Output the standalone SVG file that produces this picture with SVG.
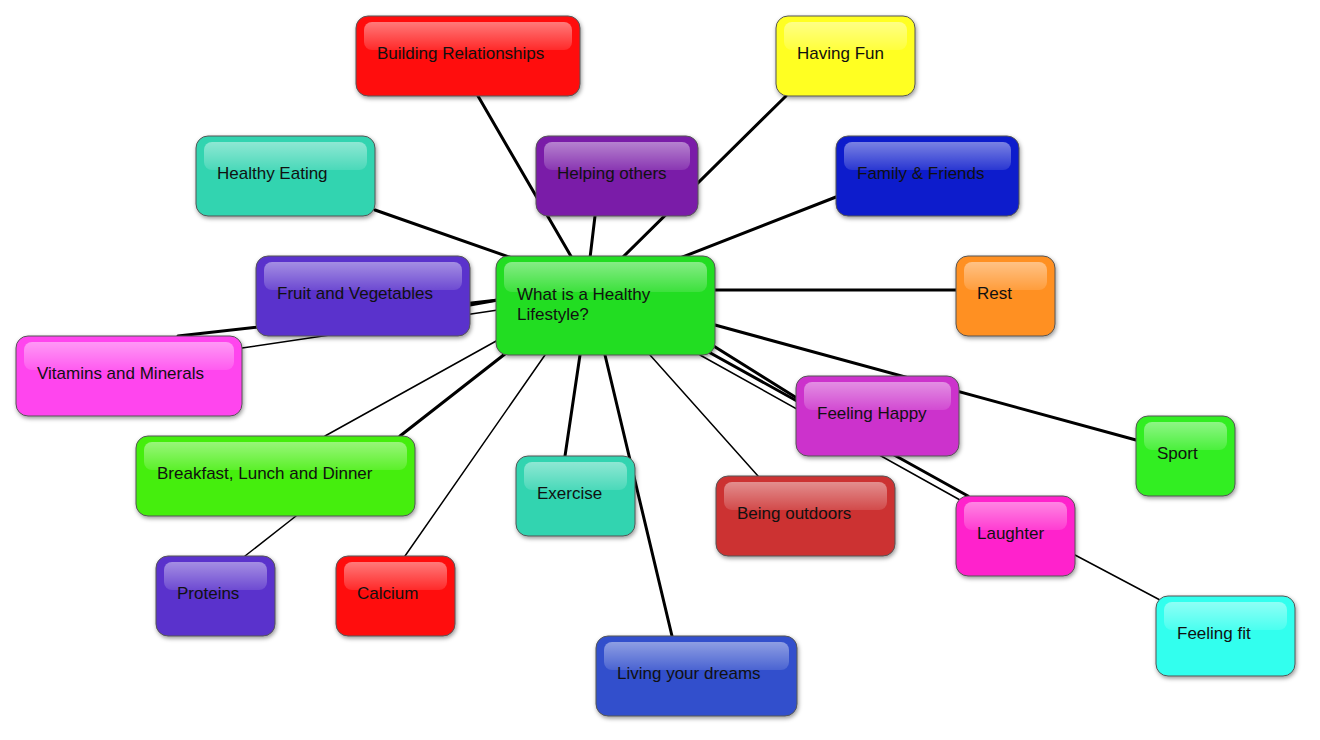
<svg xmlns="http://www.w3.org/2000/svg" width="1320" height="740" viewBox="0 0 1320 740">
<defs>
<linearGradient id="gl" x1="0" y1="0" x2="0" y2="1"><stop offset="0" stop-color="#fff" stop-opacity="0.45"/><stop offset="1" stop-color="#fff" stop-opacity="0.12"/></linearGradient>
<filter id="sh" x="-10%" y="-10%" width="130%" height="140%"><feDropShadow dx="1" dy="2" stdDeviation="2" flood-opacity="0.4"/></filter>
</defs>
<style>
.b{stroke:#555;stroke-width:1;filter:url(#sh)}
.g{fill:url(#gl)}
text{font-family:"Liberation Sans",Arial,sans-serif;font-size:17px;fill:#111}
.c line{stroke:#000;stroke-linecap:round}
.k{stroke-width:3}.t{stroke-width:1.5}
</style>
<rect width="1320" height="740" fill="#fff"/>
<g id="connectors" class="c">
<line class="k" x1="478" y1="96" x2="572" y2="258"/>
<line class="k" x1="595" y1="216" x2="590" y2="258"/>
<line class="k" x1="786" y1="96" x2="622" y2="258"/>
<line class="k" x1="836" y1="197" x2="680" y2="258"/>
<line class="k" x1="375" y1="210" x2="512" y2="258"/>
<line class="k" x1="470" y1="305" x2="498" y2="300"/>
<line class="k" x1="178" y1="336" x2="498" y2="300"/>
<line class="t" x1="242" y1="348" x2="498" y2="310"/>
<line class="k" x1="715" y1="290" x2="956" y2="290"/>
<line class="k" x1="715" y1="325" x2="1136" y2="440"/>
<line class="k" x1="712" y1="345" x2="800" y2="400"/>
<line class="k" x1="705" y1="350" x2="968" y2="496"/>
<line class="t" x1="700" y1="355" x2="960" y2="500"/>
<line class="t" x1="1075" y1="555" x2="1160" y2="600"/>
<line class="t" x1="498" y1="340" x2="325" y2="436"/>
<line class="k" x1="510" y1="350" x2="400" y2="436"/>
<line class="t" x1="245" y1="556" x2="296" y2="516"/>
<line class="t" x1="405" y1="556" x2="545" y2="355"/>
<line class="k" x1="565" y1="456" x2="580" y2="355"/>
<line class="k" x1="672" y1="636" x2="605" y2="355"/>
<line class="t" x1="758" y1="476" x2="650" y2="355"/>
</g>
<g id="center"><rect class="b" x="496" y="256" width="219" height="99" rx="12" fill="#22dd22"/><rect class="g" x="504" y="262" width="203" height="30" rx="8"/><text x="517" y="300">What is a Healthy</text><text x="517" y="320">Lifestyle?</text></g>
<g id="n1"><rect class="b" x="356" y="16" width="224" height="80" rx="12" fill="#ff1111"/><rect class="g" x="364" y="22" width="208" height="28" rx="8"/><text x="377" y="59">Building Relationships</text></g>
<g id="n2"><rect class="b" x="776" y="16" width="139" height="80" rx="12" fill="#ffff22"/><rect class="g" x="784" y="22" width="123" height="28" rx="8"/><text x="797" y="59">Having Fun</text></g>
<g id="n3"><rect class="b" x="196" y="136" width="179" height="80" rx="12" fill="#33d4b0"/><rect class="g" x="204" y="142" width="163" height="28" rx="8"/><text x="217" y="179">Healthy Eating</text></g>
<g id="n4"><rect class="b" x="536" y="136" width="162" height="80" rx="12" fill="#7a1aa8"/><rect class="g" x="544" y="142" width="146" height="28" rx="8"/><text x="557" y="179">Helping others</text></g>
<g id="n5"><rect class="b" x="836" y="136" width="183" height="80" rx="12" fill="#0a1acc"/><rect class="g" x="844" y="142" width="167" height="28" rx="8"/><text x="857" y="179">Family &amp; Friends</text></g>
<g id="n6"><rect class="b" x="956" y="256" width="99" height="80" rx="12" fill="#ff9020"/><rect class="g" x="964" y="262" width="83" height="28" rx="8"/><text x="977" y="299">Rest</text></g>
<g id="n7"><rect class="b" x="256" y="256" width="214" height="80" rx="12" fill="#5a30cc"/><rect class="g" x="264" y="262" width="198" height="28" rx="8"/><text x="277" y="299">Fruit and Vegetables</text></g>
<g id="n8"><rect class="b" x="16" y="336" width="226" height="80" rx="12" fill="#ff44ee"/><rect class="g" x="24" y="342" width="210" height="28" rx="8"/><text x="37" y="379">Vitamins and Minerals</text></g>
<g id="n9"><rect class="b" x="796" y="376" width="163" height="80" rx="12" fill="#cc33cc"/><rect class="g" x="804" y="382" width="147" height="28" rx="8"/><text x="817" y="419">Feeling Happy</text></g>
<g id="n10"><rect class="b" x="1136" y="416" width="99" height="80" rx="12" fill="#33ee22"/><rect class="g" x="1144" y="422" width="83" height="28" rx="8"/><text x="1157" y="459">Sport</text></g>
<g id="n11"><rect class="b" x="136" y="436" width="279" height="80" rx="12" fill="#44ee11"/><rect class="g" x="144" y="442" width="263" height="28" rx="8"/><text x="157" y="479">Breakfast, Lunch and Dinner</text></g>
<g id="n12"><rect class="b" x="516" y="456" width="119" height="80" rx="12" fill="#33d4b0"/><rect class="g" x="524" y="462" width="103" height="28" rx="8"/><text x="537" y="499">Exercise</text></g>
<g id="n13"><rect class="b" x="716" y="476" width="179" height="80" rx="12" fill="#cc3333"/><rect class="g" x="724" y="482" width="163" height="28" rx="8"/><text x="737" y="519">Being outdoors</text></g>
<g id="n14"><rect class="b" x="956" y="496" width="119" height="80" rx="12" fill="#ff22cc"/><rect class="g" x="964" y="502" width="103" height="28" rx="8"/><text x="977" y="539">Laughter</text></g>
<g id="n15"><rect class="b" x="156" y="556" width="119" height="80" rx="12" fill="#5a30cc"/><rect class="g" x="164" y="562" width="103" height="28" rx="8"/><text x="177" y="599">Proteins</text></g>
<g id="n16"><rect class="b" x="336" y="556" width="119" height="80" rx="12" fill="#ff1111"/><rect class="g" x="344" y="562" width="103" height="28" rx="8"/><text x="357" y="599">Calcium</text></g>
<g id="n17"><rect class="b" x="1156" y="596" width="139" height="80" rx="12" fill="#33ffee"/><rect class="g" x="1164" y="602" width="123" height="28" rx="8"/><text x="1177" y="639">Feeling fit</text></g>
<g id="n18"><rect class="b" x="596" y="636" width="201" height="80" rx="12" fill="#3050cc"/><rect class="g" x="604" y="642" width="185" height="28" rx="8"/><text x="617" y="679">Living your dreams</text></g>
</svg>
